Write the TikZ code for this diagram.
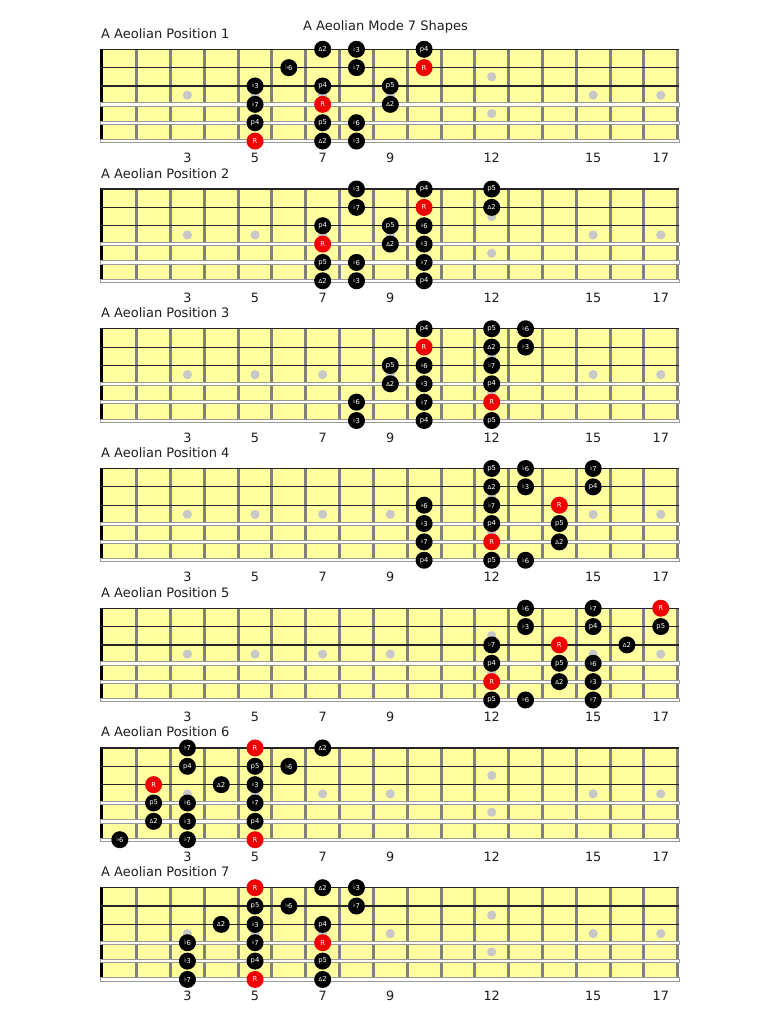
\documentclass[tikz,border=0pt]{standalone}
\usepackage{fontspec}
\setmainfont{DejaVu Sans}
\definecolor{board}{RGB}{255,255,160}
\definecolor{fretc}{RGB}{128,128,128}
\definecolor{dotc}{RGB}{200,200,200}
\definecolor{rootc}{RGB}{240,0,0}
\definecolor{txt}{RGB}{30,30,30}
\newcommand{\flt}[1]{\raisebox{1pt}{\fontsize{6.5}{6.5}\selectfont ♭}\hspace{-0.3pt}#1}
\newcommand{\mjt}{{\fontsize{5.5}{5.5}\selectfont ∆}2}
\tikzset{
  fretwire/.style={draw=fretc, line width=3pt},
  nutline/.style={draw=black, line width=3.2pt},
  thinstring/.style={draw=black!85, line width=1.2pt},
  woundstring/.style={draw=fretc!80, fill=white, line width=0.7pt},
  inlay/.style={fill=dotc},
  note/.style={circle, fill=black, text=white, minimum size=17pt, inner sep=0pt, font=\fontsize{6.8}{6.8}\selectfont},
  rootnote/.style={note, fill=rootc},
  fretnum/.style={font=\fontsize{12.8}{13}\selectfont, text=txt, anchor=base},
  postitle/.style={font=\fontsize{13}{14}\selectfont, text=txt, anchor=base west, inner sep=0pt},
  maintitle/.style={font=\fontsize{13}{14}\selectfont, text=txt, anchor=base, inner sep=0pt},
}
\newcommand{\fbpanel}[3]{%
  \pgfmathsetmacro{\PTop}{49.3+139.73*#1}
  \pgfmathsetmacro{\PBot}{\PTop+5*18.35}
  \fill[board] (101,\PTop) rectangle (679,\PBot);
  \foreach \n in {1,...,17} {
    \pgfmathsetmacro{\fx}{102.9+33.81*\n}
    \draw[fretwire] (\fx,\PTop) -- (\fx,\PBot);
  }
  \draw[nutline] (101.8,\PTop-0.6) -- (101.8,\PBot+0.6);
  \foreach \i in {0,1,2} {
    \pgfmathsetmacro{\sy}{\PTop+18.35*\i}
    \draw[thinstring] (101,\sy) -- (679,\sy);
  }
  \foreach \i in {3,4,5} {
    \pgfmathsetmacro{\sy}{\PTop+18.35*\i}
    \filldraw[woundstring] (100,\sy-1.6) rectangle (679,\sy+1.6);
  }
  \foreach \f in {3,5,7,9,15,17} {
    \pgfmathsetmacro{\mx}{102.9+33.81*(\f-0.5)}
    \fill[inlay] (\mx,\PTop+2.5*18.35) circle (4.6);
  }
  \pgfmathsetmacro{\mx}{102.9+33.81*11.5}
  \fill[inlay] (\mx,\PTop+1.5*18.35) circle (4.6);
  \fill[inlay] (\mx,\PTop+3.5*18.35) circle (4.6);
  \foreach \f in {3,5,7,9,12,15,17} {
    \pgfmathsetmacro{\mx}{102.9+33.81*(\f-0.5)}
    \node[fretnum] (fn#1-\f) at (\mx,\PBot+21.5) {\f};
  }
  \node[postitle] (pt#1) at (101,\PTop-11) {#2};
  \foreach \s/\f/\l/\st in {#3} {
    \pgfmathsetmacro{\mx}{102.9+33.81*(\f-0.5)}
    \pgfmathsetmacro{\my}{\PTop+18.35*(\s-1)}
    \node[\st] (n#1-\s-\f) at (\mx,\my) {\l};
  }
}
\begin{document}
\begin{tikzpicture}[x=1pt,y=-1pt]
\useasboundingbox (0,0) rectangle (768,1024);
\fill[white] (0,0) rectangle (768,1024);
\node[maintitle] (title) at (385.5,30.5) {A Aeolian Mode 7 Shapes};
\fbpanel{0}{A Aeolian Position 1}{
1/7/{\mjt}/note, 1/8/{\flt3}/note, 1/10/{p4}/note,
2/6/{\flt6}/note, 2/8/{\flt7}/note, 2/10/R/rootnote,
3/5/{\flt3}/note, 3/7/{p4}/note, 3/9/{p5}/note,
4/5/{\flt7}/note, 4/7/R/rootnote, 4/9/{\mjt}/note,
5/5/{p4}/note, 5/7/{p5}/note, 5/8/{\flt6}/note,
6/5/R/rootnote, 6/7/{\mjt}/note, 6/8/{\flt3}/note}
\fbpanel{1}{A Aeolian Position 2}{
1/8/{\flt3}/note, 1/10/{p4}/note, 1/12/{p5}/note,
2/8/{\flt7}/note, 2/10/R/rootnote, 2/12/{\mjt}/note,
3/7/{p4}/note, 3/9/{p5}/note, 3/10/{\flt6}/note,
4/7/R/rootnote, 4/9/{\mjt}/note, 4/10/{\flt3}/note,
5/7/{p5}/note, 5/8/{\flt6}/note, 5/10/{\flt7}/note,
6/7/{\mjt}/note, 6/8/{\flt3}/note, 6/10/{p4}/note}
\fbpanel{2}{A Aeolian Position 3}{
1/10/{p4}/note, 1/12/{p5}/note, 1/13/{\flt6}/note,
2/10/R/rootnote, 2/12/{\mjt}/note, 2/13/{\flt3}/note,
3/9/{p5}/note, 3/10/{\flt6}/note, 3/12/{\flt7}/note,
4/9/{\mjt}/note, 4/10/{\flt3}/note, 4/12/{p4}/note,
5/8/{\flt6}/note, 5/10/{\flt7}/note, 5/12/R/rootnote,
6/8/{\flt3}/note, 6/10/{p4}/note, 6/12/{p5}/note}
\fbpanel{3}{A Aeolian Position 4}{
1/12/{p5}/note, 1/13/{\flt6}/note, 1/15/{\flt7}/note,
2/12/{\mjt}/note, 2/13/{\flt3}/note, 2/15/{p4}/note,
3/10/{\flt6}/note, 3/12/{\flt7}/note, 3/14/R/rootnote,
4/10/{\flt3}/note, 4/12/{p4}/note, 4/14/{p5}/note,
5/10/{\flt7}/note, 5/12/R/rootnote, 5/14/{\mjt}/note,
6/10/{p4}/note, 6/12/{p5}/note, 6/13/{\flt6}/note}
\fbpanel{4}{A Aeolian Position 5}{
1/13/{\flt6}/note, 1/15/{\flt7}/note, 1/17/R/rootnote,
2/13/{\flt3}/note, 2/15/{p4}/note, 2/17/{p5}/note,
3/12/{\flt7}/note, 3/14/R/rootnote, 3/16/{\mjt}/note,
4/12/{p4}/note, 4/14/{p5}/note, 4/15/{\flt6}/note,
5/12/R/rootnote, 5/14/{\mjt}/note, 5/15/{\flt3}/note,
6/12/{p5}/note, 6/13/{\flt6}/note, 6/15/{\flt7}/note}
\fbpanel{5}{A Aeolian Position 6}{
1/3/{\flt7}/note, 1/5/R/rootnote, 1/7/{\mjt}/note,
2/3/{p4}/note, 2/5/{p5}/note, 2/6/{\flt6}/note,
3/2/R/rootnote, 3/4/{\mjt}/note, 3/5/{\flt3}/note,
4/2/{p5}/note, 4/3/{\flt6}/note, 4/5/{\flt7}/note,
5/2/{\mjt}/note, 5/3/{\flt3}/note, 5/5/{p4}/note,
6/1/{\flt6}/note, 6/3/{\flt7}/note, 6/5/R/rootnote}
\fbpanel{6}{A Aeolian Position 7}{
1/5/R/rootnote, 1/7/{\mjt}/note, 1/8/{\flt3}/note,
2/5/{p5}/note, 2/6/{\flt6}/note, 2/8/{\flt7}/note,
3/4/{\mjt}/note, 3/5/{\flt3}/note, 3/7/{p4}/note,
4/3/{\flt6}/note, 4/5/{\flt7}/note, 4/7/R/rootnote,
5/3/{\flt3}/note, 5/5/{p4}/note, 5/7/{p5}/note,
6/3/{\flt7}/note, 6/5/R/rootnote, 6/7/{\mjt}/note}
\end{tikzpicture}
\end{document}
